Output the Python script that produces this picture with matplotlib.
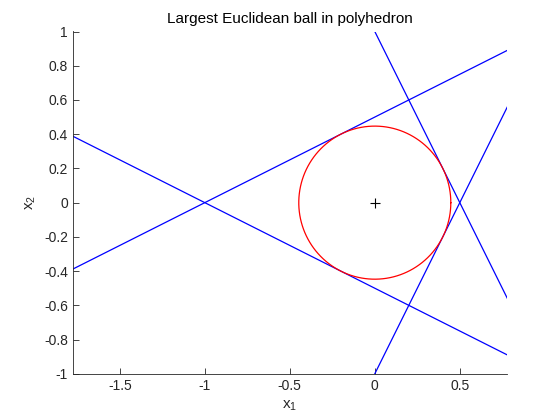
import numpy as np
import matplotlib
matplotlib.use("Agg")
import matplotlib.pyplot as plt

# Polyhedron: a_i^T x <= b_i
a1 = [2, 1]
a2 = [2, -1]
a3 = [-1, 2]
a4 = [-1, -2]
b = [1, 1, 1, 1]
center = [0.0, 0.0]
radius = 0.4472

plt.rcParams['font.family'] = ['Liberation Sans', 'DejaVu Sans']
plt.rcParams['mathtext.default'] = 'regular'
fig = plt.figure(figsize=(5.6, 4.2), dpi=100)
ax = fig.add_axes([0.13, 0.11, 0.775, 0.815])

x = np.linspace(-2, 2, 200)
for ai, bi in zip([a1, a2, a3, a4], b):
    ax.plot(x, -x * ai[0] / ai[1] + bi / ai[1], color=(0, 0, 1), lw=0.9)

t = np.linspace(0, 2 * np.pi, 400)
ax.plot(center[0] + radius * np.cos(t), center[1] + radius * np.sin(t), color=(1, 0, 0), lw=0.9)
ax.plot(center[0], center[1], 'k+', ms=7, mew=0.8)

ax.set_xlim(-1.7765, 0.7765)
ax.set_ylim(-1, 1)
ax.set_xticks([-1.5, -1, -0.5, 0, 0.5])
ax.set_xticklabels(['-1.5', '-1', '-0.5', '0', '0.5'])
ax.set_yticks(np.arange(-1, 1.01, 0.2))
ax.set_yticklabels(['-1', '-0.8', '-0.6', '-0.4', '-0.2', '0', '0.2', '0.4', '0.6', '0.8', '1'])
gray = (0.15, 0.15, 0.15)
ax.tick_params(direction='in', length=4, width=0.6, colors=gray, labelsize=10)
for s in ['top', 'right']:
    ax.spines[s].set_visible(False)
for s in ['left', 'bottom']:
    ax.spines[s].set_color(gray)
    ax.spines[s].set_linewidth(0.6)
ax.set_title('Largest Euclidean ball in polyhedron', fontsize=11, color='black', pad=6)
ax.set_xlabel('x$_1$', fontsize=11, color=gray)
ax.set_ylabel('x$_2$', fontsize=11, color=gray)
fig.savefig('out.png', dpi=100)
